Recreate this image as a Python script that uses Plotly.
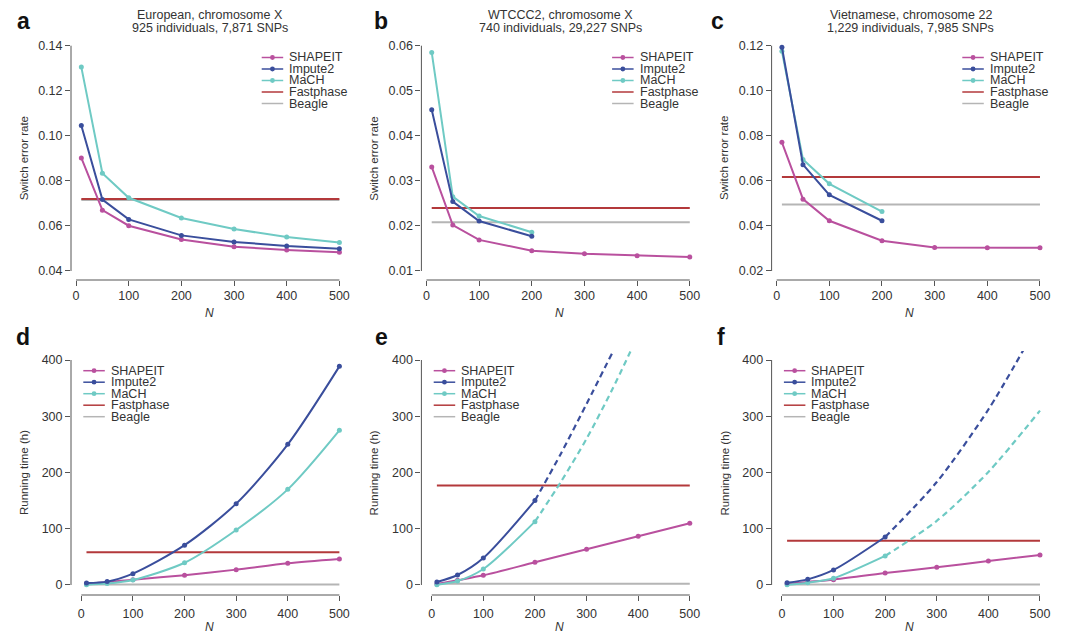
import plotly.graph_objects as go

# ---------------- data ----------------
N = [10, 50, 100, 200, 300, 400, 500]
N_short = [10, 50, 100, 200]
N_flat = [10, 500]

# Switch error rate (top row)
a_shapeit = [0.0902, 0.0670, 0.0601, 0.0540, 0.0508, 0.0493, 0.0483]
a_impute2 = [0.1046, 0.0717, 0.0629, 0.0558, 0.0529, 0.0511, 0.0499]
a_mach = [0.1305, 0.0834, 0.0725, 0.0635, 0.0586, 0.0551, 0.0526]
a_fastphase = 0.0720
a_beagle = 0.0715

b_shapeit = [0.0331, 0.0202, 0.0169, 0.0145, 0.0138, 0.0134, 0.0131]
b_impute2 = [0.0458, 0.0254, 0.0211, 0.0177]
b_mach = [0.0585, 0.0265, 0.0222, 0.0186]
b_fastphase = 0.0240
b_beagle = 0.0208

c_shapeit = [0.0771, 0.0519, 0.0423, 0.0334, 0.0304, 0.0303, 0.0303]
c_impute2 = [0.1193, 0.0672, 0.0538, 0.0423]
c_mach = [0.1175, 0.0695, 0.0587, 0.0464]
c_fastphase = 0.0617
c_beagle = 0.0495

# Running time in hours (bottom row)
d_shapeit = [2.5, 5.0, 9.5, 17.4, 27.3, 38.5, 46.2]
d_impute2 = [3.6, 6.0, 20.2, 70.8, 144.6, 250.0, 388.7]
d_mach = [0.5, 2.5, 8.9, 39.5, 97.8, 170.0, 275.0]
d_fastphase = 58.2
d_beagle = 1.0

e_shapeit = [1.8, 8.5, 17.2, 40.3, 63.4, 86.5, 109.6]
e_impute2 = [5.3, 17.8, 48.0, 150.0]
e_mach = [0.5, 7.0, 28.4, 112.6]
e_impute2_ext_N = [200, 250, 300, 350]
e_impute2_ext = [150.0, 233.0, 322.0, 413.0]
e_mach_ext_N = [200, 250, 300, 350, 385]
e_mach_ext = [112.6, 183.0, 260.0, 348.0, 415.0]
e_fastphase = 177.0
e_beagle = 2.0

f_shapeit = [2.4, 5.5, 9.5, 21.3, 31.4, 42.7, 53.3]
f_impute2 = [4.0, 10.0, 26.7, 85.3]
f_mach = [0.5, 4.0, 12.0, 51.6]
f_impute2_ext_N = [200, 300, 400, 468]
f_impute2_ext = [85.3, 183.0, 312.0, 418.0]
f_mach_ext_N = [200, 300, 400, 500]
f_mach_ext = [51.6, 114.0, 201.0, 310.0]
f_fastphase = 78.5
f_beagle = 1.0

series_names = ["SHAPEIT", "Impute2", "MaCH", "Fastphase", "Beagle"]
x_ticks = [0, 100, 200, 300, 400, 500]

titles = [
    ["European, chromosome X", "925 individuals, 7,871 SNPs"],
    ["WTCCC2, chromosome X", "740 individuals, 29,227 SNPs"],
    ["Vietnamese, chromosome 22", "1,229 individuals, 7,985 SNPs"],
]
letters = ["a", "b", "c", "d", "e", "f"]

# ---------------- style ----------------
C_SHAPEIT = "#b9509e"
C_IMPUTE2 = "#3a4e9c"
C_MACH = "#6fcac4"
C_FAST = "#b3393b"
C_BEAGLE = "#b5b5b5"
COLORS = [C_SHAPEIT, C_IMPUTE2, C_MACH, C_FAST, C_BEAGLE]
FONT = "Liberation Sans, Arial, Helvetica, sans-serif"
TXT = "#333333"
AX = "#555555"

# the page body has an 8px margin: place everything in screen pixels minus that offset
OFF = 8
W, H = 1080 - OFF, 639 - OFF
def fx(px):
    return (px - OFF) / W
def fy(py):
    return 1 - (py - OFF) / H

COL_LEFT = [71.0, 421.4, 771.6]
BOX_W = 278.7
ROW_TOP = [36.7, 351.0]
ROW_BOT = [280.0, 595.0]

panels = [
    dict(shapeit=(N, a_shapeit), impute2=(N, a_impute2), mach=(N, a_mach),
         fast=a_fastphase, beagle=a_beagle,
         yr=[0.036, 0.144], yt=[0.04, 0.06, 0.08, 0.10, 0.12, 0.14], fmt=".2f"),
    dict(shapeit=(N, b_shapeit), impute2=(N_short, b_impute2), mach=(N_short, b_mach),
         fast=b_fastphase, beagle=b_beagle,
         yr=[0.008, 0.062], yt=[0.01, 0.02, 0.03, 0.04, 0.05, 0.06], fmt=".2f"),
    dict(shapeit=(N, c_shapeit), impute2=(N_short, c_impute2), mach=(N_short, c_mach),
         fast=c_fastphase, beagle=c_beagle,
         yr=[0.016, 0.124], yt=[0.02, 0.04, 0.06, 0.08, 0.10, 0.12], fmt=".2f"),
    dict(shapeit=(N, d_shapeit), impute2=(N, d_impute2), mach=(N, d_mach),
         fast=d_fastphase, beagle=d_beagle,
         yr=[-17.8, 416], yt=[0, 100, 200, 300, 400], fmt="d"),
    dict(shapeit=(N, e_shapeit), impute2=(N_short, e_impute2), mach=(N_short, e_mach),
         imp_ext=(e_impute2_ext_N, e_impute2_ext), mach_ext=(e_mach_ext_N, e_mach_ext),
         fast=e_fastphase, beagle=e_beagle,
         yr=[-17.8, 416], yt=[0, 100, 200, 300, 400], fmt="d"),
    dict(shapeit=(N, f_shapeit), impute2=(N_short, f_impute2), mach=(N_short, f_mach),
         imp_ext=(f_impute2_ext_N, f_impute2_ext), mach_ext=(f_mach_ext_N, f_mach_ext),
         fast=f_fastphase, beagle=f_beagle,
         yr=[-17.8, 416], yt=[0, 100, 200, 300, 400], fmt="d"),
]

fig = go.Figure()
shapes = []
annotations = []

for i, p in enumerate(panels):
    r, c = divmod(i, 3)
    k = i + 1
    xa = "x" if k == 1 else f"x{k}"
    ya = "y" if k == 1 else f"y{k}"
    left = COL_LEFT[c]
    right = left + BOX_W
    top, bot = ROW_TOP[r], ROW_BOT[r]
    xr = [-9.6, 519.6] if r == 0 else [-20, 520]

    fig.layout[f"xaxis{'' if k == 1 else k}"] = dict(
        domain=[fx(left), fx(right)], range=xr, anchor=ya,
        tickmode="array", tickvals=x_ticks, ticks="outside", ticklen=5,
        tickwidth=1, tickcolor=AX, showline=False, showgrid=False, zeroline=False,
        ticklabelstandoff=-1 if r == 0 else 2,
        tickfont=dict(family=FONT, size=12.5, color=TXT), fixedrange=True)
    fig.layout[f"yaxis{'' if k == 1 else k}"] = dict(
        domain=[fy(bot), fy(top)], range=p["yr"], anchor=xa,
        tickmode="array", tickvals=p["yt"], tickformat=p["fmt"],
        ticks="outside", ticklen=5, tickwidth=1, tickcolor=AX,
        showline=False, showgrid=False, zeroline=False,
        tickfont=dict(family=FONT, size=12.5, color=TXT), fixedrange=True)

    # detached R-style axis lines
    shapes.append(dict(type="line", xref=xa, yref=f"{ya} domain", x0=0, x1=500,
                       y0=0, y1=0, line=dict(color=AX, width=1)))
    shapes.append(dict(type="line", xref=f"{xa} domain", yref=ya, x0=0, x1=0,
                       y0=p["yt"][0], y1=p["yt"][-1], line=dict(color=AX, width=1)))

    shape_kind = "linear" if r == 0 else "spline"
    # flat reference lines
    fig.add_trace(go.Scatter(x=N_flat, y=[p["beagle"]] * 2, mode="lines", xaxis=xa, yaxis=ya,
                             line=dict(color=C_BEAGLE, width=2), showlegend=False, name="Beagle"))
    fig.add_trace(go.Scatter(x=N_flat, y=[p["fast"]] * 2, mode="lines", xaxis=xa, yaxis=ya,
                             line=dict(color=C_FAST, width=2), showlegend=False, name="Fastphase"))
    # dashed extrapolations
    if "mach_ext" in p:
        fig.add_trace(go.Scatter(x=p["mach_ext"][0], y=p["mach_ext"][1], mode="lines",
                                 xaxis=xa, yaxis=ya, line=dict(color=C_MACH, width=2.2, dash="6px,4px",
                                 shape="spline", smoothing=0.8), showlegend=False, name="MaCH"))
        fig.add_trace(go.Scatter(x=p["imp_ext"][0], y=p["imp_ext"][1], mode="lines",
                                 xaxis=xa, yaxis=ya, line=dict(color=C_IMPUTE2, width=2.2, dash="6px,4px",
                                 shape="spline", smoothing=0.8), showlegend=False, name="Impute2"))
    for key, col, nm in [("shapeit", C_SHAPEIT, "SHAPEIT"), ("mach", C_MACH, "MaCH"),
                         ("impute2", C_IMPUTE2, "Impute2")]:
        xs, ys = p[key]
        fig.add_trace(go.Scatter(x=xs, y=ys, mode="lines+markers", xaxis=xa, yaxis=ya,
                                 line=dict(color=col, width=2, shape=shape_kind, smoothing=0.8),
                                 marker=dict(color=col, size=5), showlegend=False, name=nm))

    # legend (drawn in R style: tight rows)
    if r == 0:
        lx0 = right - 88.0
        ly0 = 57.5
    else:
        lx0 = left + 12.3
        ly0 = 370.7
    for j, (nm, col) in enumerate(zip(series_names, COLORS)):
        yy = ly0 + j * 11.5
        shapes.append(dict(type="line", xref="paper", yref="paper", x0=fx(lx0), x1=fx(lx0 + 21.5),
                           y0=fy(yy), y1=fy(yy), line=dict(color=col, width=1.5)))
        if j < 3:
            cx = lx0 + 10.75
            shapes.append(dict(type="circle", xref="paper", yref="paper",
                               x0=fx(cx - 2.4), x1=fx(cx + 2.4), y0=fy(yy + 2.4), y1=fy(yy - 2.4),
                               fillcolor=col, line=dict(color=col, width=0)))
        annotations.append(dict(text=nm, xref="paper", yref="paper", x=fx(lx0 + 25.5), y=fy(yy),
                                xanchor="left", yanchor="middle", showarrow=False,
                                font=dict(family=FONT, size=12.5, color=TXT)))

    # axis titles
    ytitle = "Switch error rate" if r == 0 else "Running time (h)"
    annotations.append(dict(text=ytitle, xref="paper", yref="paper", x=fx(left - 47),
                            y=fy((top + bot) / 2), textangle=-90, xanchor="center", yanchor="middle",
                            showarrow=False, font=dict(family=FONT, size=11.5, color=TXT)))
    annotations.append(dict(text="<i>N</i>", xref="paper", yref="paper", x=fx((left + right) / 2 - 1),
                            y=fy(313 if r == 0 else 627), xanchor="center", yanchor="middle",
                            showarrow=False, font=dict(family=FONT, size=12, color=TXT)))
    # panel letter
    lxp = [23, 381, 717][c] if r == 0 else [23, 381, 721][c]
    annotations.append(dict(text=f"<b>{letters[i]}</b>", xref="paper", yref="paper", x=fx(lxp),
                            y=fy(21 if r == 0 else 337), xanchor="center", yanchor="middle",
                            showarrow=False, font=dict(family=FONT, size=23, color="#111111")))
    # top row titles
    if r == 0:
        for li, line in enumerate(titles[c]):
            annotations.append(dict(text=line, xref="paper", yref="paper", x=fx((left + right) / 2),
                                    y=fy(15 + 13.5 * li), xanchor="center", yanchor="middle",
                                    showarrow=False, font=dict(family=FONT, size=12.5, color=TXT)))

fig.update_layout(width=W, height=H, margin=dict(l=0, r=0, t=0, b=0),
                  paper_bgcolor="white", plot_bgcolor="white", showlegend=False,
                  shapes=shapes, annotations=annotations)

fig.write_html("out.html")
